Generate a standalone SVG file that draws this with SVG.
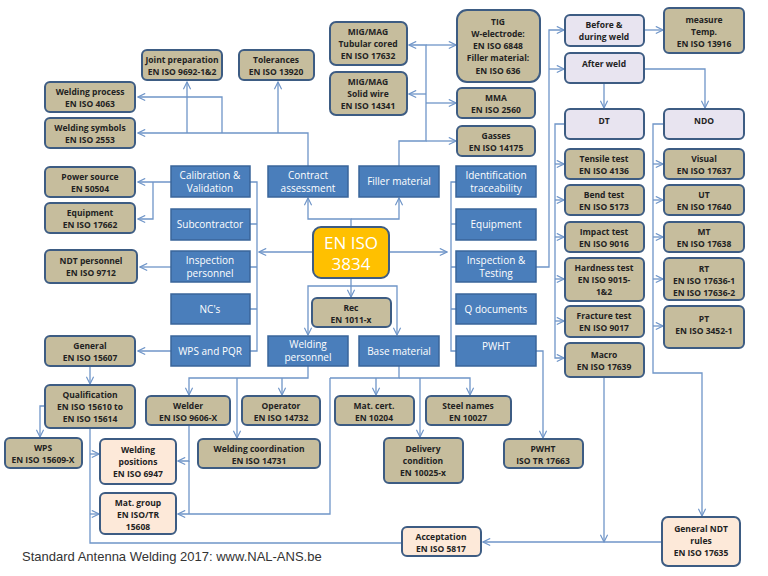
<svg xmlns="http://www.w3.org/2000/svg" width="768" height="576" viewBox="0 0 768 576">
<defs>
<marker id="a" viewBox="0 0 10 10" refX="9" refY="5" markerWidth="9" markerHeight="9" markerUnits="userSpaceOnUse" orient="auto"><path d="M1,1 L9,5 L1,9" fill="none" stroke="#6f95c8" stroke-width="1.3"/></marker>
</defs>
<style>
.t rect{fill:#c6bd9d;stroke:#3d5c83;stroke-width:2}
.b rect{fill:#4a7ebb;stroke:#3a659a;stroke-width:1.5}
.l rect{fill:#e8e4f0;stroke:#3d5c83;stroke-width:2}
.p rect{fill:#fde9d9;stroke:#3d5c83;stroke-width:2}
text{font-family:"Open Sans","Liberation Sans",sans-serif;text-anchor:middle}
.t text,.l text,.p text{font-size:8.5px;font-weight:bold;fill:#222}
.b text{font-size:10px;fill:#fff}
#c path{fill:none;stroke:#6f95c8;stroke-width:1.3}
</style>
<rect width="768" height="576" fill="#fff"/>
<g id="c">
<path d="M308,166 V133 H138" marker-end="url(#a)"/>
<path d="M222,133 V97 H138" marker-end="url(#a)"/>
<path d="M187,133 V82" marker-end="url(#a)"/>
<path d="M278,133 V82" marker-end="url(#a)"/>
<path d="M250,182 H257 V351 H250 M250,224 H257 M250,267 H257 M250,309 H257"/>
<path d="M313,252 H259" marker-end="url(#a)"/>
<path d="M171,182 H138" marker-end="url(#a)"/>
<path d="M153,182 V219 H138" marker-end="url(#a)"/>
<path d="M171,267 H140" marker-end="url(#a)"/>
<path d="M171,351 H138" marker-end="url(#a)"/>
<path d="M90,366 V384" marker-end="url(#a)"/>
<path d="M45,406 H40 V437" marker-end="url(#a)"/>
<path d="M90,428 V543 H402"/>
<path d="M90,454 H99" marker-end="url(#a)"/>
<path d="M90,514 H99" marker-end="url(#a)"/>
<path d="M189,425 V461 H178" marker-end="url(#a)"/>
<path d="M189,461 V514"/>
<path d="M330,378 V514 H178" marker-end="url(#a)"/>
<path d="M308,366 V378 H189 V395" marker-end="url(#a)"/>
<path d="M237,378 V438" marker-end="url(#a)"/>
<path d="M282,378 V395" marker-end="url(#a)"/>
<path d="M399,366 V378 H330 M376,378 V395" marker-end="url(#a)"/>
<path d="M399,378 H470 V395" marker-end="url(#a)"/>
<path d="M420,378 V437" marker-end="url(#a)"/>
<path d="M351,227 V219 H308 V198" marker-end="url(#a)"/>
<path d="M351,219 H399 V198" marker-end="url(#a)"/>
<path d="M351,278 V297" marker-end="url(#a)"/>
<path d="M351,286 H308 V335" marker-end="url(#a)"/>
<path d="M351,286 H397 V335" marker-end="url(#a)"/>
<path d="M389,252 H447" marker-end="url(#a)"/>
<path d="M456,182 H451 V351 H456 M451,224 H456 M451,267 H456 M451,309 H456"/>
<path d="M399,166 V141 H426 V45 H409" marker-end="url(#a)"/>
<path d="M426,94 H409" marker-end="url(#a)"/>
<path d="M426,45 H456" marker-end="url(#a)"/>
<path d="M426,103 H456" marker-end="url(#a)"/>
<path d="M426,141 H456" marker-end="url(#a)"/>
<path d="M536,267 H549 V30 H564" marker-end="url(#a)"/>
<path d="M549,69 H564" marker-end="url(#a)"/>
<path d="M644,30 H663" marker-end="url(#a)"/>
<path d="M604,83 V108" marker-end="url(#a)"/>
<path d="M644,69 H705 V108" marker-end="url(#a)"/>
<path d="M565,124 H555 V358 H564" marker-end="url(#a)"/>
<path d="M555,164 H564" marker-end="url(#a)"/>
<path d="M555,200 H564" marker-end="url(#a)"/>
<path d="M555,237 H564" marker-end="url(#a)"/>
<path d="M555,279 H564" marker-end="url(#a)"/>
<path d="M555,321 H564" marker-end="url(#a)"/>
<path d="M664,124 H653 V373 H702 V516" marker-end="url(#a)"/>
<path d="M653,164 H663" marker-end="url(#a)"/>
<path d="M653,200 H663" marker-end="url(#a)"/>
<path d="M653,237 H663" marker-end="url(#a)"/>
<path d="M653,279 H663" marker-end="url(#a)"/>
<path d="M653,326 H663" marker-end="url(#a)"/>
<path d="M604,377 V542" marker-end="url(#a)"/>
<path d="M662,542 H483" marker-end="url(#a)"/>
<path d="M536,351 H543 V438" marker-end="url(#a)"/>
</g>
<g id="n-wproc" class="t"><rect x="45" y="82" width="90" height="30" rx="5"/><text x="90" y="95">Welding process</text><text x="90" y="107">EN ISO 4063</text></g>
<g id="n-wsym" class="t"><rect x="45" y="118" width="90" height="30" rx="5"/><text x="90" y="131">Welding symbols</text><text x="90" y="143">EN ISO 2553</text></g>
<g id="n-joint" class="t"><rect x="142" y="50" width="80" height="30" rx="5"/><text x="182" y="63">Joint preparation</text><text x="182" y="75">EN ISO 9692-1&amp;2</text></g>
<g id="n-tol" class="t"><rect x="239" y="50" width="75" height="30" rx="5"/><text x="276" y="63">Tolerances</text><text x="276" y="75">EN ISO 13920</text></g>
<g id="n-power" class="t"><rect x="45" y="167" width="90" height="30" rx="5"/><text x="90" y="180">Power source</text><text x="90" y="192">EN 50504</text></g>
<g id="n-equipl" class="t"><rect x="45" y="203" width="90" height="30" rx="5"/><text x="90" y="216">Equipment</text><text x="90" y="228">EN ISO 17662</text></g>
<g id="n-ndtp" class="t"><rect x="45" y="250" width="92" height="33" rx="5"/><text x="91" y="264">NDT personnel</text><text x="91" y="276">EN ISO 9712</text></g>
<g id="n-general" class="t"><rect x="45" y="336" width="90" height="30" rx="5"/><text x="90" y="349">General</text><text x="90" y="361">EN ISO 15607</text></g>
<g id="n-qual" class="t"><rect x="45" y="385" width="90" height="43" rx="5"/><text x="90" y="398">Qualification</text><text x="90" y="410">EN ISO 15610 to</text><text x="90" y="422">EN ISO 15614</text></g>
<g id="n-wps" class="t"><rect x="5" y="438" width="77" height="30" rx="5"/><text x="43" y="451">WPS</text><text x="43" y="463">EN ISO 15609-X</text></g>
<g id="n-wpos" class="p"><rect x="100" y="439" width="76" height="45" rx="5"/><text x="138" y="453">Welding</text><text x="138" y="465">positions</text><text x="138" y="477">EN ISO 6947</text></g>
<g id="n-matg" class="p"><rect x="100" y="493" width="76" height="41" rx="5"/><text x="138" y="506">Mat. group</text><text x="138" y="518">EN ISO/TR</text><text x="138" y="530">15608</text></g>
<g id="n-welder" class="t"><rect x="146" y="396" width="84" height="29" rx="5"/><text x="188" y="409">Welder</text><text x="188" y="421">EN ISO 9606-X</text></g>
<g id="n-oper" class="t"><rect x="242" y="396" width="78" height="29" rx="5"/><text x="281" y="409">Operator</text><text x="281" y="421">EN ISO 14732</text></g>
<g id="n-wcoord" class="t"><rect x="198" y="439" width="122" height="29" rx="5"/><text x="259" y="452">Welding coordination</text><text x="259" y="464">EN ISO 14731</text></g>
<g id="n-calib" class="b"><rect x="171" y="166" width="79" height="31"/><text x="210" y="179">Calibration &amp;</text><text x="210" y="192">Validation</text></g>
<g id="n-sub" class="b"><rect x="171" y="209" width="79" height="31"/><text x="210" y="228">Subcontractor</text></g>
<g id="n-insp" class="b"><rect x="171" y="251" width="79" height="31"/><text x="210" y="264">Inspection</text><text x="210" y="277">personnel</text></g>
<g id="n-nc" class="b"><rect x="171" y="294" width="79" height="30"/><text x="210" y="313">NC's</text></g>
<g id="n-wpspqr" class="b"><rect x="171" y="336" width="79" height="30"/><text x="210" y="355">WPS and PQR</text></g>
<g id="n-contract" class="b"><rect x="268" y="166" width="80" height="31"/><text x="308" y="179">Contract</text><text x="308" y="192">assessment</text></g>
<g id="n-filler" class="b"><rect x="359" y="166" width="80" height="31"/><text x="399" y="185">Filler material</text></g>
<g id="n-main"><rect x="313" y="227" width="76" height="51" rx="8" fill="#ffc000" stroke="#3d5c83" stroke-width="2"/><text x="351" y="249" font-size="17" fill="#fff">EN ISO</text><text x="351" y="270" font-size="17" fill="#fff">3834</text></g>
<g id="n-rec" class="t"><rect x="312" y="298" width="79" height="29" rx="5"/><text x="351" y="311">Rec</text><text x="351" y="323">EN 1011-x</text></g>
<g id="n-wpers" class="b"><rect x="268" y="336" width="80" height="30"/><text x="308" y="348">Welding</text><text x="308" y="361">personnel</text></g>
<g id="n-base" class="b"><rect x="359" y="336" width="80" height="30"/><text x="399" y="355">Base material</text></g>
<g id="n-matc" class="t"><rect x="335" y="396" width="79" height="29" rx="5"/><text x="374" y="409">Mat. cert.</text><text x="374" y="421">EN 10204</text></g>
<g id="n-steel" class="t"><rect x="426" y="396" width="85" height="29" rx="5"/><text x="468" y="409">Steel names</text><text x="468" y="421">EN 10027</text></g>
<g id="n-deliv" class="t"><rect x="384" y="438" width="79" height="45" rx="5"/><text x="423" y="452">Delivery</text><text x="423" y="464">condition</text><text x="423" y="476">EN 10025-x</text></g>
<g id="n-pwhtt" class="t"><rect x="504" y="439" width="79" height="29" rx="5"/><text x="543" y="452">PWHT</text><text x="543" y="464">ISO TR 17663</text></g>
<g id="n-accept" class="p"><rect x="402" y="527" width="79" height="29" rx="5"/><text x="441" y="540">Acceptation</text><text x="441" y="552">EN ISO 5817</text></g>
<g id="n-migt" class="t"><rect x="330" y="22" width="77" height="43" rx="6"/><text x="368" y="35">MIG/MAG</text><text x="368" y="47">Tubular cored</text><text x="368" y="59">EN ISO 17632</text></g>
<g id="n-migs" class="t"><rect x="330" y="72" width="77" height="43" rx="6"/><text x="368" y="85">MIG/MAG</text><text x="368" y="97">Solid wire</text><text x="368" y="109">EN ISO 14341</text></g>
<g id="n-tig" class="t"><rect x="457" y="10" width="83" height="72" rx="10"/><text x="498" y="25">TIG</text><text x="498" y="37">W-electrode:</text><text x="498" y="49">EN ISO 6848</text><text x="498" y="61">Filler material:</text><text x="498" y="74">EN ISO 636</text></g>
<g id="n-mma" class="t"><rect x="457" y="88" width="78" height="30" rx="5"/><text x="496" y="101">MMA</text><text x="496" y="113">EN ISO 2560</text></g>
<g id="n-gas" class="t"><rect x="457" y="126" width="78" height="30" rx="5"/><text x="496" y="139">Gasses</text><text x="496" y="151">EN ISO 14175</text></g>
<g id="n-ident" class="b"><rect x="456" y="166" width="80" height="31"/><text x="496" y="179">Identification</text><text x="496" y="192">traceability</text></g>
<g id="n-equipr" class="b"><rect x="456" y="209" width="80" height="31"/><text x="496" y="228">Equipment</text></g>
<g id="n-inspt" class="b"><rect x="456" y="251" width="80" height="31"/><text x="496" y="264">Inspection &amp;</text><text x="496" y="277">Testing</text></g>
<g id="n-qdoc" class="b"><rect x="456" y="294" width="80" height="30"/><text x="496" y="313">Q documents</text></g>
<g id="n-pwhtb" class="b"><rect x="456" y="336" width="80" height="30"/><text x="496" y="350">PWHT</text></g>
<g id="n-before" class="l"><rect x="565" y="15" width="79" height="31" rx="5"/><text x="604" y="28">Before &amp;</text><text x="604" y="40">during weld</text></g>
<g id="n-after" class="l"><rect x="565" y="53" width="79" height="30" rx="5"/><text x="604" y="67">After weld</text></g>
<g id="n-temp" class="t"><rect x="664" y="8" width="80" height="45" rx="5"/><text x="704" y="23">measure</text><text x="704" y="35">Temp.</text><text x="704" y="47">EN ISO 13916</text></g>
<g id="n-dt" class="l"><rect x="565" y="109" width="79" height="30" rx="5"/><text x="604" y="124">DT</text></g>
<g id="n-ndo" class="l"><rect x="664" y="109" width="80" height="30" rx="5"/><text x="704" y="124">NDO</text></g>
<g id="n-tens" class="t"><rect x="565" y="149" width="79" height="30" rx="5"/><text x="604" y="162">Tensile test</text><text x="604" y="174">EN ISO 4136</text></g>
<g id="n-bend" class="t"><rect x="565" y="185" width="79" height="30" rx="5"/><text x="604" y="198">Bend test</text><text x="604" y="210">EN ISO 5173</text></g>
<g id="n-impact" class="t"><rect x="565" y="222" width="79" height="30" rx="5"/><text x="604" y="235">Impact test</text><text x="604" y="247">EN ISO 9016</text></g>
<g id="n-hard" class="t"><rect x="565" y="258" width="79" height="43" rx="5"/><text x="604" y="271">Hardness test</text><text x="604" y="283">EN ISO 9015-</text><text x="604" y="295">1&amp;2</text></g>
<g id="n-fract" class="t"><rect x="565" y="306" width="79" height="31" rx="5"/><text x="604" y="319">Fracture test</text><text x="604" y="331">EN ISO 9017</text></g>
<g id="n-macro" class="t"><rect x="565" y="343" width="79" height="34" rx="5"/><text x="604" y="358">Macro</text><text x="604" y="370">EN ISO 17639</text></g>
<g id="n-vis" class="t"><rect x="664" y="149" width="80" height="30" rx="5"/><text x="704" y="162">Visual</text><text x="704" y="174">EN ISO 17637</text></g>
<g id="n-ut" class="t"><rect x="664" y="185" width="80" height="30" rx="5"/><text x="704" y="198">UT</text><text x="704" y="210">EN ISO 17640</text></g>
<g id="n-mt" class="t"><rect x="664" y="222" width="80" height="30" rx="5"/><text x="704" y="235">MT</text><text x="704" y="247">EN ISO 17638</text></g>
<g id="n-rt" class="t"><rect x="664" y="258" width="80" height="42" rx="5"/><text x="704" y="272">RT</text><text x="704" y="284">EN ISO 17636-1</text><text x="704" y="296">EN ISO 17636-2</text></g>
<g id="n-pt" class="t"><rect x="664" y="306" width="80" height="42" rx="5"/><text x="704" y="322">PT</text><text x="704" y="334">EN ISO 3452-1</text></g>
<g id="n-gndt" class="p"><rect x="662" y="517" width="78" height="49" rx="6"/><text x="701" y="532">General NDT</text><text x="701" y="544">rules</text><text x="701" y="556">EN ISO 17635</text></g>
<text x="22" y="561" style="text-anchor:start;font-family:'Liberation Sans',Arial,sans-serif;font-size:13px;fill:#333">Standard Antenna Welding 2017: www.NAL-ANS.be</text>
</svg>
